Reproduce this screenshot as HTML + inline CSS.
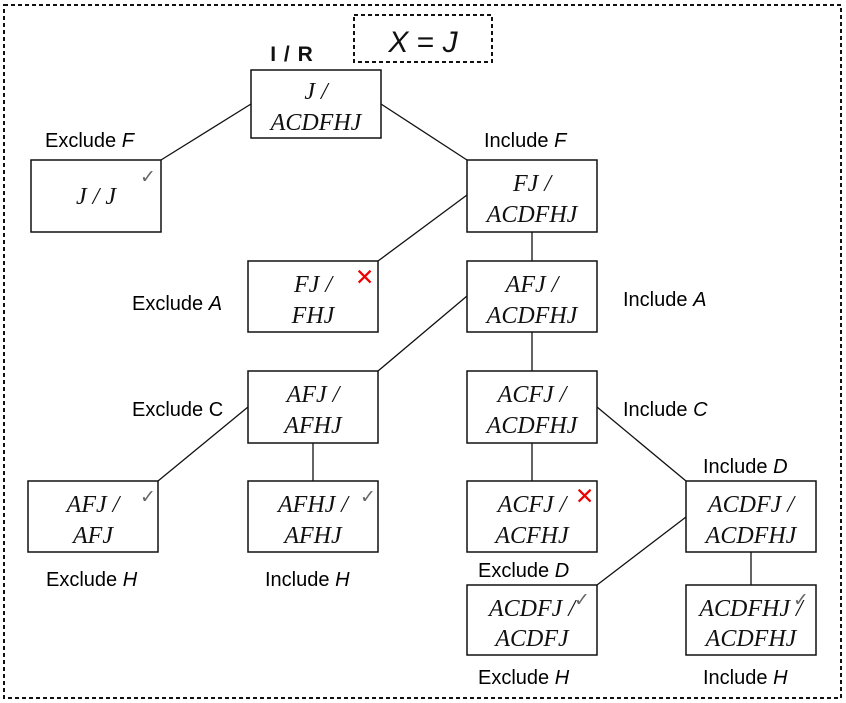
<!DOCTYPE html>
<html><head><meta charset="utf-8"><style>
html,body{margin:0;padding:0;background:#fff;}
svg{display:block;}
.l{font-family:"Liberation Sans",sans-serif;font-size:20px;fill:#000;}
.b{font-family:"Liberation Serif",serif;font-style:italic;font-size:24px;fill:#111;text-anchor:middle;}
.bx{fill:#fff;stroke:#111;stroke-width:1.5;}
.ln{stroke:#111;stroke-width:1.3;}
.ck{font-family:"DejaVu Sans",sans-serif;font-size:19px;font-weight:bold;fill:#666;}
.x{font-family:"DejaVu Sans",sans-serif;font-size:23px;font-weight:bold;fill:#e00;}
</style></head><body>
<svg width="846" height="703" viewBox="0 0 846 703" xmlns="http://www.w3.org/2000/svg">
<rect x="4" y="5" width="837" height="693" fill="none" stroke="#111" stroke-width="2" stroke-dasharray="4,3"/>
<rect x="354" y="15" width="138" height="47" fill="none" stroke="#111" stroke-width="2" stroke-dasharray="4,3"/>
<text x="423" y="52" font-family="Liberation Sans,sans-serif" font-size="30" text-anchor="middle" fill="#111"><tspan font-style="italic">X</tspan> = <tspan font-style="italic">J</tspan></text>
<text x="292" y="61" font-family="Liberation Sans,sans-serif" font-size="21" font-weight="bold" text-anchor="middle" fill="#111" letter-spacing="1">I / R</text>

<g class="ln">
<line x1="251" y1="104" x2="161" y2="160"/>
<line x1="381" y1="104" x2="467" y2="160"/>
<line x1="467" y1="195" x2="378" y2="261"/>
<line x1="532" y1="232" x2="532" y2="261"/>
<line x1="467" y1="296" x2="378" y2="371"/>
<line x1="532" y1="332" x2="532" y2="371"/>
<line x1="248" y1="407" x2="158" y2="481"/>
<line x1="313" y1="443" x2="313" y2="481"/>
<line x1="532" y1="443" x2="532" y2="481"/>
<line x1="597" y1="407" x2="686" y2="481"/>
<line x1="686" y1="517" x2="597" y2="585"/>
<line x1="751" y1="552" x2="751" y2="585"/>
</g>

<rect class="bx" x="251" y="70" width="130" height="68"/>
<text class="b" x="316" y="99">J /</text><text class="b" x="316" y="130">ACDFHJ</text>

<rect class="bx" x="31" y="160" width="130" height="72"/>
<text class="b" x="96" y="204">J / J</text>
<text class="ck" x="140" y="183">✓</text>

<rect class="bx" x="467" y="160" width="130" height="72"/>
<text class="b" x="532" y="191">FJ /</text><text class="b" x="532" y="222">ACDFHJ</text>

<rect class="bx" x="248" y="261" width="130" height="71"/>
<text class="b" x="313" y="292">FJ /</text><text class="b" x="313" y="323">FHJ</text>
<text class="x" x="355" y="285">✕</text>

<rect class="bx" x="467" y="261" width="130" height="71"/>
<text class="b" x="532" y="292">AFJ /</text><text class="b" x="532" y="323">ACDFHJ</text>

<rect class="bx" x="248" y="371" width="130" height="72"/>
<text class="b" x="313" y="402">AFJ /</text><text class="b" x="313" y="433">AFHJ</text>

<rect class="bx" x="467" y="371" width="130" height="72"/>
<text class="b" x="532" y="402">ACFJ /</text><text class="b" x="532" y="433">ACDFHJ</text>

<rect class="bx" x="28" y="481" width="130" height="71"/>
<text class="b" x="93" y="512">AFJ /</text><text class="b" x="93" y="543">AFJ</text>
<text class="ck" x="140" y="503">✓</text>

<rect class="bx" x="248" y="481" width="130" height="71"/>
<text class="b" x="313" y="512">AFHJ /</text><text class="b" x="313" y="543">AFHJ</text>
<text class="ck" x="360" y="503">✓</text>

<rect class="bx" x="467" y="481" width="130" height="71"/>
<text class="b" x="532" y="512">ACFJ /</text><text class="b" x="532" y="543">ACFHJ</text>
<text class="x" x="575" y="504">✕</text>

<rect class="bx" x="686" y="481" width="130" height="71"/>
<text class="b" x="751" y="512">ACDFJ /</text><text class="b" x="751" y="543">ACDFHJ</text>

<rect class="bx" x="467" y="585" width="130" height="70"/>
<text class="b" x="532" y="616">ACDFJ /</text><text class="b" x="532" y="646">ACDFJ</text>
<text class="ck" x="574" y="606">✓</text>

<rect class="bx" x="686" y="585" width="130" height="70"/>
<text class="b" x="751" y="616">ACDFHJ /</text><text class="b" x="751" y="646">ACDFHJ</text>
<text class="ck" x="793" y="606">✓</text>

<text class="l" x="45" y="147">Exclude <tspan font-style="italic">F</tspan></text>
<text class="l" x="484" y="147">Include <tspan font-style="italic">F</tspan></text>
<text class="l" x="132" y="310">Exclude <tspan font-style="italic">A</tspan></text>
<text class="l" x="623" y="306">Include <tspan font-style="italic">A</tspan></text>
<text class="l" x="132" y="416">Exclude C</text>
<text class="l" x="623" y="416">Include <tspan font-style="italic">C</tspan></text>
<text class="l" x="703" y="473">Include <tspan font-style="italic">D</tspan></text>
<text class="l" x="46" y="586">Exclude <tspan font-style="italic">H</tspan></text>
<text class="l" x="265" y="586">Include <tspan font-style="italic">H</tspan></text>
<text class="l" x="478" y="577">Exclude <tspan font-style="italic">D</tspan></text>
<text class="l" x="478" y="684">Exclude <tspan font-style="italic">H</tspan></text>
<text class="l" x="703" y="684">Include <tspan font-style="italic">H</tspan></text>
</svg>
</body></html>
